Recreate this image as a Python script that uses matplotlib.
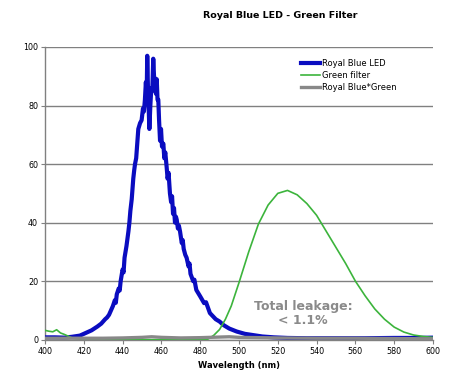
import matplotlib
matplotlib.use('Agg')
import matplotlib.pyplot as plt

# Royal Blue LED spectrum
blue_nm = [400, 405, 410, 414, 418, 421, 424, 427, 429, 431, 432, 433, 434, 435, 436, 436.5, 437, 438,
           438.5, 439, 440, 440.5, 441, 442, 443, 443.5, 444, 444.7, 445.5, 446, 446.4, 447, 448.1,
           449, 449.8, 450.5, 451, 451.5, 452, 452.4, 452.7, 453.1, 453.5, 453.8, 454.3, 454.8, 455.3,
           455.8, 456.2, 456.7, 457.2, 457.6, 458, 458.4, 458.8, 459.3, 459.8, 460.3, 461, 461.5, 462,
           462.7, 463.2, 463.7, 464.4, 465, 465.5, 466, 466.5, 467, 467.5, 467.9, 468.5, 469, 469.6,
           470.5, 471, 471.5, 472.3, 473, 474, 474.5, 475, 476.4, 477, 478, 480, 482, 483, 485, 488,
           490, 492, 495, 498.8, 503, 507, 512, 518, 525, 535, 550, 565, 580, 590, 600]
blue_val = [0.8, 0.8, 0.7, 1.0, 1.4, 2.3, 3.2, 4.5, 5.5, 7.0, 7.6, 8.5, 10.0, 11.5, 13.5, 12.6, 15.5, 17.5,
            16.8, 20, 24, 23, 28, 32, 37, 40, 44, 48, 55, 58, 60, 62, 72,
            74, 75, 79, 78, 82, 88, 83, 97, 85, 78, 72, 80, 86, 85,
            96, 90, 89, 84, 89, 82, 82, 75, 68, 72, 66, 67, 62, 64,
            59, 55, 57, 50, 47, 49, 43, 45, 40, 42, 41, 38, 39, 37,
            33, 34, 31, 29, 28, 25, 26, 22.5, 20, 20.5, 17, 14.8, 12.5, 12.8, 9.1, 7.0,
            6.2, 5.0, 3.8, 2.8, 2.0, 1.6, 1.1, 0.8, 0.6, 0.5, 0.5, 0.5, 0.6, 0.6, 0.7]

# Green filter transmission
green_nm = [400, 402, 404, 406, 408, 410, 412, 414, 416, 420, 440, 460, 480, 484, 487, 490, 493, 496,
            500, 505, 510, 515, 520, 525, 530, 535, 540, 545, 550, 555, 560, 565, 570, 575, 580, 585,
            590, 595, 600]
green_val = [3.2, 2.9, 2.7, 3.4, 2.3, 1.8, 1.2, 0.6, 0.3, 0.1, 0, 0, 0, 0.2, 1.5, 3.5, 7, 11.5,
             19.5, 30, 39.5, 46, 50, 51, 49.5, 46.5, 42.5, 37, 31.5, 26, 20, 15, 10.5, 7, 4.3, 2.6,
             1.6, 1.1, 0.8]

# product Royal Blue * Green
grey_nm = [400, 410, 420, 430, 440, 450, 455, 460, 470, 480, 490, 495, 500, 510, 520, 540, 560, 580, 600]
grey_val = [0.5, 0.5, 0.5, 0.5, 0.6, 0.8, 1.0, 0.8, 0.6, 0.7, 0.9, 1.0, 0.8, 0.7, 0.6, 0.5, 0.5, 0.4, 0.3]

x_ticks = [400, 420, 440, 460, 480, 500, 520, 540, 560, 580, 600]
y_ticks = [0, 20, 40, 60, 80, 100]

plt.rcParams['font.family'] = ['DejaVu Sans']

fig = plt.figure(figsize=(4.51, 3.86), dpi=100)
ax = fig.add_axes([45 / 451, 1 - 339.7 / 386, 388 / 451, (339.7 - 47) / 386])

ax.plot(blue_nm, blue_val, color='#0a0cc0', lw=3.0, label='Royal Blue LED', zorder=3)
ax.plot(green_nm, green_val, color='#3cb43c', lw=1.2, label='Green filter', zorder=4)
ax.plot(grey_nm, grey_val, color='#888888', lw=2.4, label='Royal Blue*Green', zorder=5)

ax.set_xlim(400, 600)
ax.set_ylim(0, 100)
ax.set_xticks(x_ticks)
ax.set_yticks(y_ticks)
ax.tick_params(labelsize=5.8, length=3, color='#808080', width=0.8, pad=2)
ax.yaxis.grid(True, color='#808080', lw=1)
ax.set_axisbelow(True)
for s in ['top', 'right']:
    ax.spines[s].set_visible(False)
for s in ['left', 'bottom']:
    ax.spines[s].set_color('#808080')
    ax.spines[s].set_linewidth(1)

ax.set_xlabel('Wavelength (nm)', fontsize=6, fontweight='bold', labelpad=4)
fig.text(280 / 451, 1 - 16 / 386, 'Royal Blue LED - Green Filter', fontsize=6.8,
         fontweight='bold', ha='center', va='center')

ax.text(533, 9.1, 'Total leakage:\n< 1.1%', fontsize=9, fontweight='bold', color='#8a8a8a',
        ha='center', va='center', linespacing=1.1)

ax.legend(loc='upper left', bbox_to_anchor=(301 / 451, 1 - 59 / 386),
          bbox_transform=fig.transFigure, frameon=False, fontsize=6,
          handlelength=2.3, handletextpad=0.2, labelspacing=0.35, borderpad=0, borderaxespad=0)

plt.savefig('out.png', dpi=100)
